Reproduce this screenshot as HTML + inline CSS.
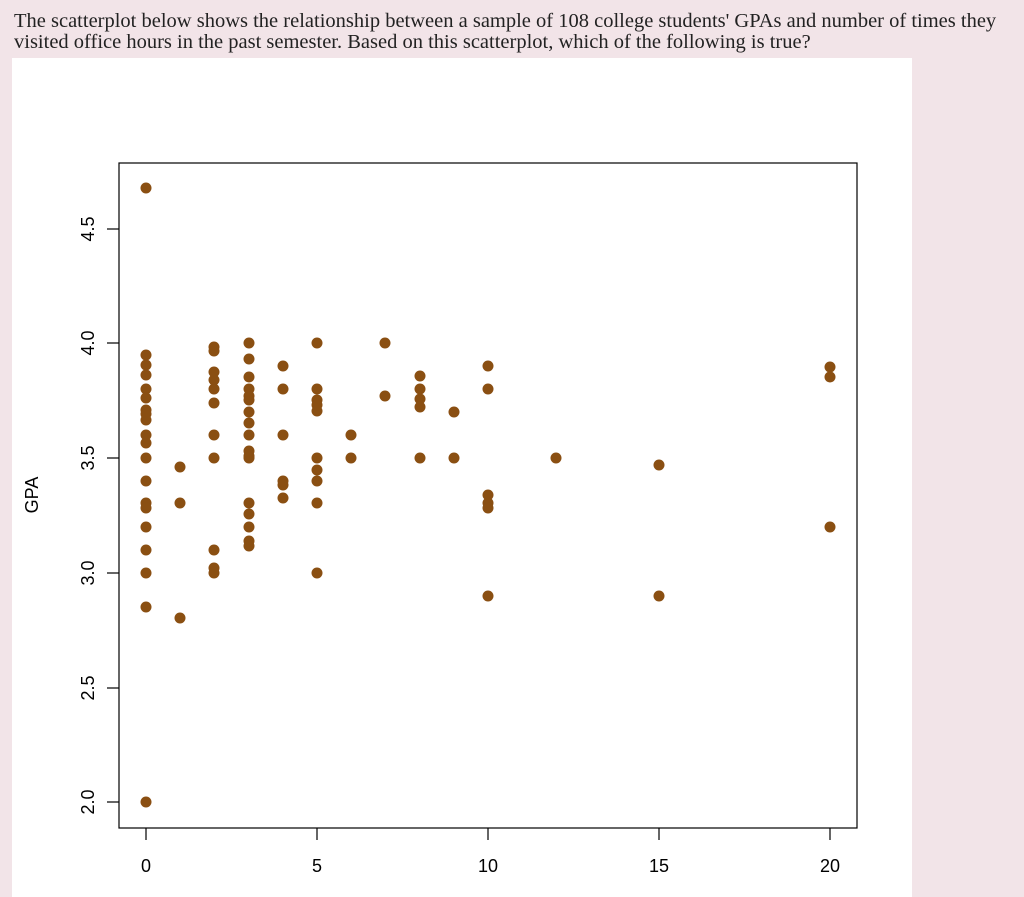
<!DOCTYPE html>
<html><head><meta charset="utf-8"><style>
body{margin:0;width:1024px;height:897px;background:#f2e4e8;overflow:hidden;font-family:"Liberation Serif",serif}
.q{position:absolute;left:14px;top:11px;font-size:20.5px;line-height:21px;color:#222;white-space:nowrap}
</style></head><body>
<div class="q">The scatterplot below shows the relationship between a sample of 108 college students' GPAs and number of times they<br>visited office hours in the past semester. Based on this scatterplot, which of the following is true?</div>
<svg width="1024" height="897" style="position:absolute;left:0;top:0">
<rect x="12" y="58" width="900" height="839" fill="#fff"/>
<rect x="119" y="163" width="738" height="665" fill="none" stroke="#000" stroke-width="1.2"/>
<g stroke="#000" stroke-width="1.2">
<line x1="146" y1="828" x2="146" y2="840"/><line x1="317" y1="828" x2="317" y2="840"/><line x1="488" y1="828" x2="488" y2="840"/><line x1="659" y1="828" x2="659" y2="840"/><line x1="830" y1="828" x2="830" y2="840"/>
<line x1="107" y1="229" x2="119" y2="229"/><line x1="107" y1="343" x2="119" y2="343"/><line x1="107" y1="458" x2="119" y2="458"/><line x1="107" y1="573" x2="119" y2="573"/><line x1="107" y1="688" x2="119" y2="688"/><line x1="107" y1="802" x2="119" y2="802"/>
</g>
<g font-family="Liberation Sans,sans-serif" font-size="18" fill="#000" text-anchor="middle">
<text x="146" y="872">0</text><text x="317" y="872">5</text><text x="488" y="872">10</text><text x="659" y="872">15</text><text x="830" y="872">20</text>
<text transform="translate(94,229) rotate(-90)">4.5</text>
<text transform="translate(94,343) rotate(-90)">4.0</text>
<text transform="translate(94,458) rotate(-90)">3.5</text>
<text transform="translate(94,573) rotate(-90)">3.0</text>
<text transform="translate(94,688) rotate(-90)">2.5</text>
<text transform="translate(94,802) rotate(-90)">2.0</text>
<text transform="translate(38,495) rotate(-90)">GPA</text>
</g>
<g id="pts" fill="#8a4f12"></g>
</svg>
<script>
var d={146:[188,355,365,375,389,398,410,414,420,435,443,458,481,503,508,527,550,573,607,802],180:[467,503,618],214:[347,351,372,380,389,403,435,458,550,568,573],249:[343,359,377,389,396,400,412,423,435,451,456,458,503,514,527,541,546],283:[366,389,435,481,485,498],317:[343,389,400,405,411,458,470,481,503,573],351:[435,458],385:[343,396],420:[376,389,399,407,458],454:[412,458],488:[366,389,495,503,508,596],556:[458],659:[465,596],830:[367,377,527]};
var g=document.getElementById('pts'),s='';
for(var x in d)d[x].forEach(function(y){s+='<circle cx="'+x+'" cy="'+y+'" r="5.5"/>';});
g.innerHTML=s;
</script>
</body></html>
